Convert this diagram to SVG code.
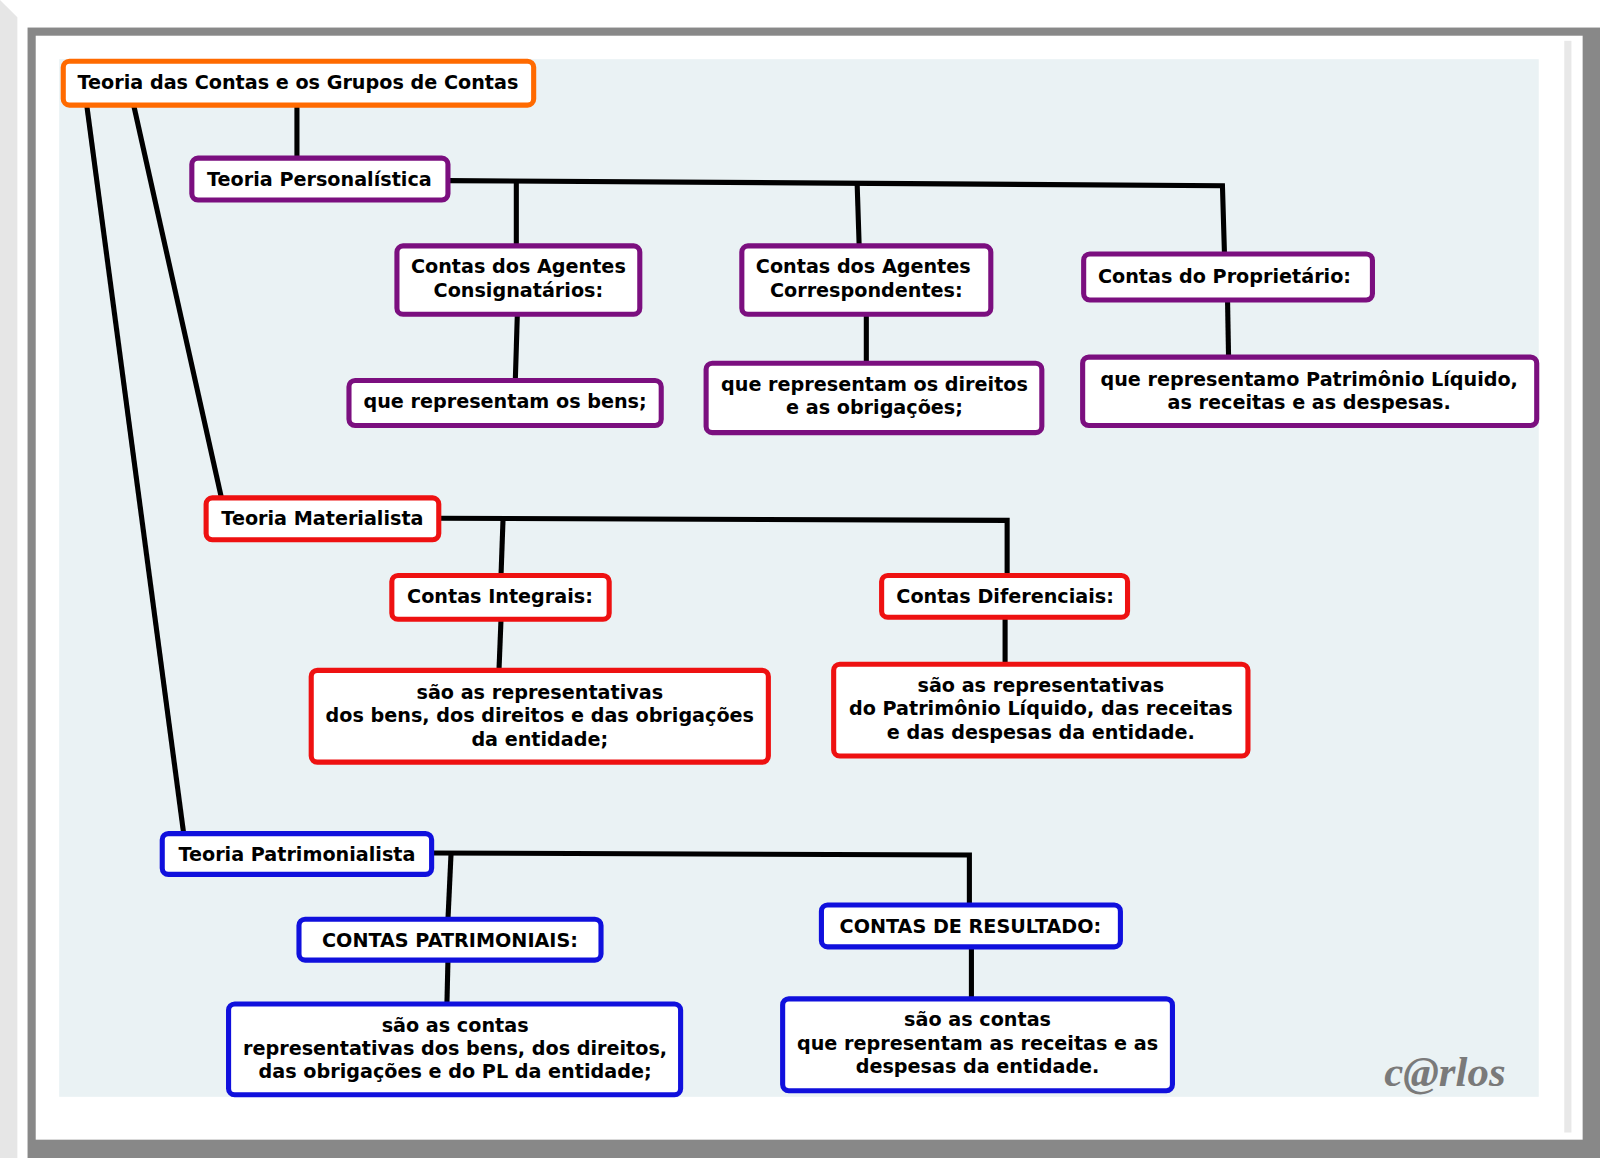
<svg xmlns="http://www.w3.org/2000/svg" width="1600" height="1158" viewBox="0 0 1600 1158">
<style>
.n rect{fill:#fff;stroke-width:5}
.o rect{stroke:#ff6a00}.p rect{stroke:#7b0f7f}.r rect{stroke:#ee1111}.b rect{stroke:#1010dd}
text{font-family:"DejaVu Sans",Verdana,sans-serif;font-weight:bold;font-size:18.8px;fill:#000;text-anchor:middle}
#edges path{fill:none;stroke:#000;stroke-width:5}
</style>
<g transform="scale(1.0204,1.0203)">
<rect x="0" y="0" width="1568" height="1135" fill="#fff"/>
<polygon points="0,0 17,17 17,1135 0,1135" fill="#e6e6e6"/>
<rect x="27" y="27" width="1541" height="1108" fill="#888"/>
<rect x="35" y="35" width="1516" height="1082" fill="#fff"/>
<rect x="1533" y="40" width="7" height="1070" fill="#e8e8e8"/>
<rect x="58" y="58" width="1450" height="1017" fill="#eaf2f4"/>
<g id="edges">
<path d="M291,103V155"/><path d="M85,103L180,817"/><path d="M131,103L217,488"/>
<path d="M439,177L1198,182L1200,249"/><path d="M506,179V241"/><path d="M840,180L842,241"/>
<path d="M507,308L505,373"/><path d="M849,308V356"/><path d="M1203,294L1204,350"/>
<path d="M430,508L987,510V564"/><path d="M493,508L491,564"/><path d="M491,607L489,657"/><path d="M985,605V651"/>
<path d="M423,836L950,838V887"/><path d="M442,837L439,901"/><path d="M439,941L438,984"/><path d="M952,928V979"/>
</g>
<g id="root" class="n o"><rect x="62" y="60" width="461" height="43" rx="6"/><text x="292" y="87">Teoria das Contas e os Grupos de Contas</text></g>
<g id="pers" class="n p"><rect x="188" y="155" width="251" height="41" rx="6"/><text x="313" y="182">Teoria Personalística</text></g>
<g id="consig" class="n p"><rect x="389" y="241" width="238" height="67" rx="6"/><text x="508" y="268">Contas dos Agentes</text><text x="508" y="291">Consignatários:</text></g>
<g id="corr" class="n p"><rect x="727" y="241" width="244" height="67" rx="6"/><text x="846" y="268">Contas dos Agentes</text><text x="849" y="291">Correspondentes:</text></g>
<g id="prop" class="n p"><rect x="1062" y="249" width="283" height="45" rx="6"/><text x="1200" y="277">Contas do Proprietário:</text></g>
<g id="bens" class="n p"><rect x="342" y="373" width="306" height="44" rx="6"/><text x="495" y="400">que representam os bens;</text></g>
<g id="dir" class="n p"><rect x="692" y="356" width="329" height="68" rx="6"/><text x="857" y="383">que representam os direitos</text><text x="857" y="406">e as obrigações;</text></g>
<g id="pl" class="n p"><rect x="1061" y="350" width="445" height="67" rx="6"/><text x="1283" y="378">que representamo Patrimônio Líquido,</text><text x="1283" y="401">as receitas e as despesas.</text></g>
<g id="mat" class="n r"><rect x="202" y="488" width="228" height="41" rx="6"/><text x="316" y="515">Teoria Materialista</text></g>
<g id="integ" class="n r"><rect x="384" y="564" width="213" height="43" rx="6"/><text x="490" y="591">Contas Integrais:</text></g>
<g id="dif" class="n r"><rect x="864" y="564" width="241" height="41" rx="6"/><text x="985" y="591">Contas Diferenciais:</text></g>
<g id="integd" class="n r"><rect x="305" y="657" width="448" height="90" rx="6"/><text x="529" y="685">são as representativas</text><text x="529" y="708">dos bens, dos direitos e das obrigações</text><text x="529" y="731">da entidade;</text></g>
<g id="difd" class="n r"><rect x="817" y="651" width="406" height="90" rx="6"/><text x="1020" y="678">são as representativas</text><text x="1020" y="701">do Patrimônio Líquido, das receitas</text><text x="1020" y="724">e das despesas da entidade.</text></g>
<g id="patr" class="n b"><rect x="159" y="817" width="264" height="40" rx="6"/><text x="291" y="844">Teoria Patrimonialista</text></g>
<g id="cp" class="n b"><rect x="293" y="901" width="296" height="40" rx="6"/><text x="441" y="928">CONTAS PATRIMONIAIS:</text></g>
<g id="cr" class="n b"><rect x="805" y="887" width="293" height="41" rx="6"/><text x="951" y="914">CONTAS DE RESULTADO:</text></g>
<g id="cpd" class="n b"><rect x="224" y="984" width="443" height="89" rx="6"/><text x="446" y="1011">são as contas</text><text x="446" y="1034">representativas dos bens, dos direitos,</text><text x="446" y="1057">das obrigações e do PL da entidade;</text></g>
<g id="crd" class="n b"><rect x="767" y="979" width="382" height="90" rx="6"/><text x="958" y="1006">são as contas</text><text x="958" y="1029">que representam as receitas e as</text><text x="958" y="1052">despesas da entidade.</text></g>
<text x="1416" y="1064" style="font-family:'Liberation Serif',serif;font-style:italic;font-size:42px;fill:#7a7a7a;font-weight:bold">c@rlos</text>
</g>
</svg>
